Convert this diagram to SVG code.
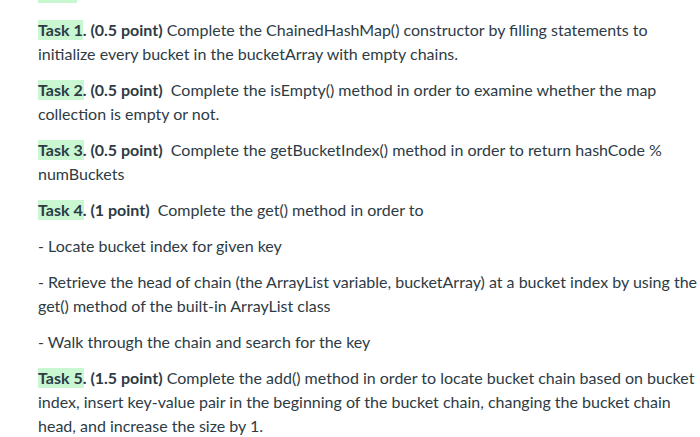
<svg xmlns="http://www.w3.org/2000/svg" width="700" height="437" viewBox="0 0 700 437">
<style>
text{font-family:Lato,"Noto Sans",sans-serif;font-size:16px;fill:#2d3b45}
.b{font-weight:bold}
.h{fill:#c8f7d2}
</style>
<rect width="700" height="437" fill="#fff"/>
<rect class="h" x="38" y="0" width="39" height="3"/>
<g id="task1">
<rect class="h" x="38" y="20" width="45" height="20"/>
<text x="38" y="36"><tspan class="b">Task 1. (0.5 point)</tspan> Complete the ChainedHashMap() constructor by filling statements to</text>
<text x="38" y="60">initialize every bucket in the bucketArray with empty chains.</text>
</g>
<g id="task2">
<rect class="h" x="38" y="80" width="46" height="20"/>
<text x="38" y="96" xml:space="preserve"><tspan class="b">Task 2. (0.5 point)</tspan>  Complete the isEmpty() method in order to examine whether the map</text>
<text x="38" y="120">collection is empty or not.</text>
</g>
<g id="task3">
<rect class="h" x="38" y="140" width="46" height="20"/>
<text x="38" y="156" xml:space="preserve"><tspan class="b">Task 3. (0.5 point)</tspan>  Complete the getBucketIndex() method in order to return hashCode %</text>
<text x="38" y="180">numBuckets</text>
</g>
<g id="task4">
<rect class="h" x="38" y="200" width="46" height="20"/>
<text x="38" y="216" xml:space="preserve"><tspan class="b">Task 4. (1 point)</tspan>  Complete the get() method in order to</text>
<text x="38" y="252">- Locate bucket index for given key</text>
<text x="38" y="288">- Retrieve the head of chain (the ArrayList variable, bucketArray) at a bucket index by using the</text>
<text x="38" y="312">get() method of the built-in ArrayList class</text>
<text x="38" y="348">- Walk through the chain and search for the key</text>
</g>
<g id="task5">
<rect class="h" x="38" y="368" width="46" height="20"/>
<text x="38" y="384"><tspan class="b">Task 5. (1.5 point)</tspan> Complete the add() method in order to locate bucket chain based on bucket</text>
<text x="38" y="408">index, insert key-value pair in the beginning of the bucket chain, changing the bucket chain</text>
<text x="38" y="432">head, and increase the size by 1.</text>
</g>
</svg>
